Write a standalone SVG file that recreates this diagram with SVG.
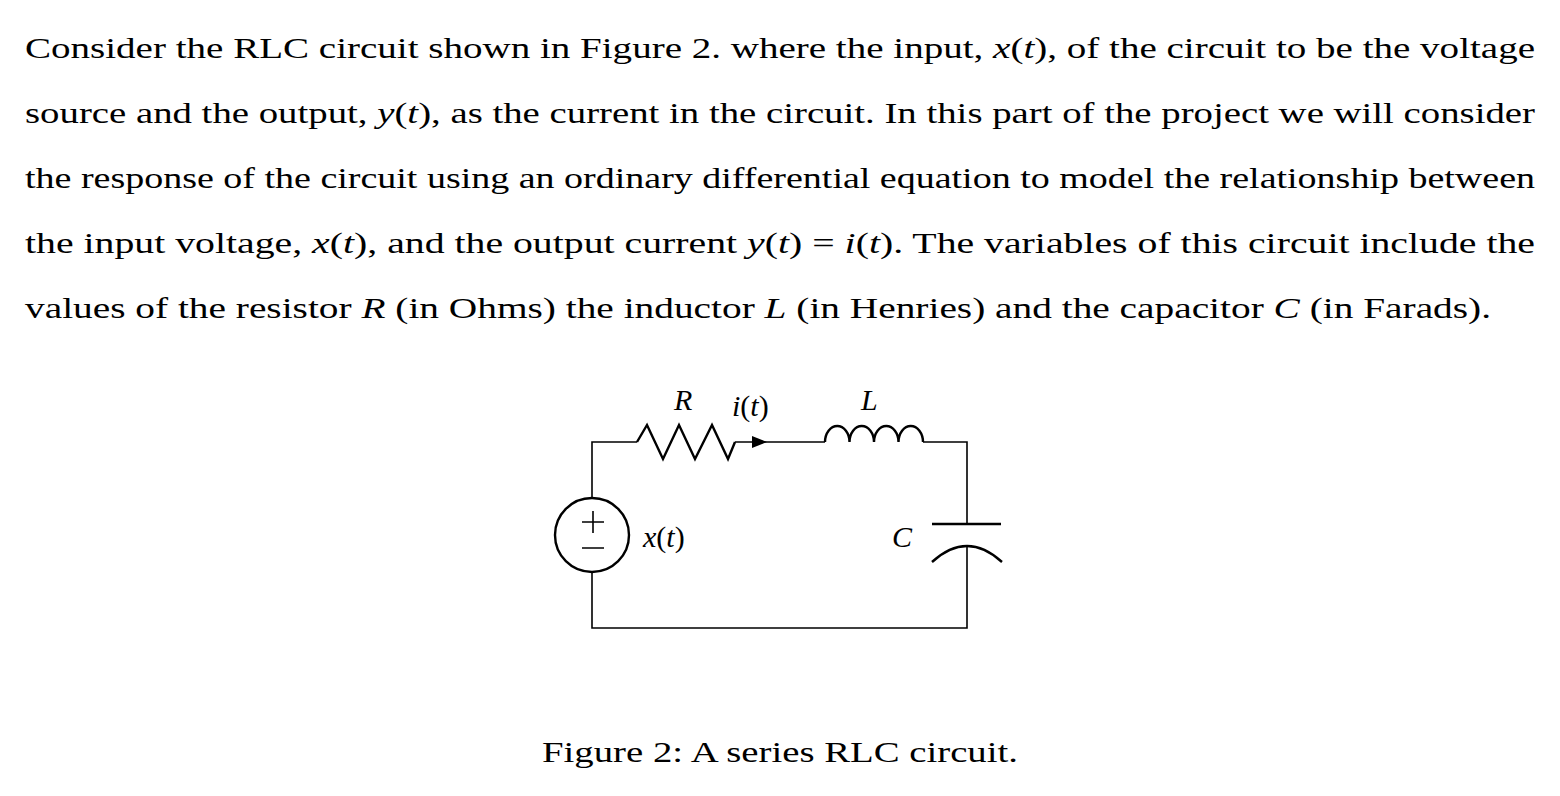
<svg xmlns="http://www.w3.org/2000/svg" width="1560" height="796" viewBox="0 0 1560 796">
<style>
.t{font-family:"Liberation Serif",serif;font-size:30px;fill:#000}
.m{font-family:"Liberation Serif",serif;font-size:30px;font-style:italic;fill:#000}
.w{fill:none;stroke:#000;stroke-width:1.6}
.k{fill:none;stroke:#000;stroke-width:2.4}
</style>
<rect width="1560" height="796" fill="#fff"/>
<g id="paragraph">
<text class="t" x="25" y="58" textLength="1510" lengthAdjust="spacingAndGlyphs">Consider the RLC circuit shown in Figure 2. where the input, <tspan font-style="italic">x</tspan>(<tspan font-style="italic">t</tspan>), of the circuit to be the voltage</text>
<text class="t" x="25" y="123" textLength="1510" lengthAdjust="spacingAndGlyphs">source and the output, <tspan font-style="italic">y</tspan>(<tspan font-style="italic">t</tspan>), as the current in the circuit. In this part of the project we will consider</text>
<text class="t" x="25" y="188" textLength="1510" lengthAdjust="spacingAndGlyphs">the response of the circuit using an ordinary differential equation to model the relationship between</text>
<text class="t" x="25" y="253" textLength="1510" lengthAdjust="spacingAndGlyphs">the input voltage, <tspan font-style="italic">x</tspan>(<tspan font-style="italic">t</tspan>), and the output current <tspan font-style="italic">y</tspan>(<tspan font-style="italic">t</tspan>) = <tspan font-style="italic">i</tspan>(<tspan font-style="italic">t</tspan>). The variables of this circuit include the</text>
<text class="t" x="25" y="318" textLength="1466" lengthAdjust="spacingAndGlyphs">values of the resistor <tspan font-style="italic">R</tspan> (in Ohms) the inductor <tspan font-style="italic">L</tspan> (in Henries) and the capacitor <tspan font-style="italic">C</tspan> (in Farads).</text>
</g>
<g id="connectors">
<polyline class="w" points="592,498 592,442 637,442"/>
<polyline class="w" points="735,442 825,442"/>
<polyline class="w" points="923,442 967,442 967,524"/>
<polyline class="w" points="967,547 967,628 592,628 592,573"/>
<polygon points="752,436 767,442 752,448" fill="#000"/>
</g>
<g id="source">
<circle class="k" cx="592" cy="535" r="37"/>
<path class="w" d="M582,522h22M593,511v22M582,548h22"/>
<text class="m" x="643" y="547">x<tspan font-style="normal">(</tspan>t<tspan font-style="normal">)</tspan></text>
</g>
<g id="resistor">
<polyline class="k" points="637,442 647,425 663,459 679,425 695,459 712,425 728,459 735,442"/>
<text class="m" x="674" y="410">R</text>
<text class="m" x="732" y="416">i<tspan font-style="normal">(</tspan>t<tspan font-style="normal">)</tspan></text>
</g>
<g id="inductor">
<path class="k" d="M825,442a12.25,16 0 0 1 24.5,0a12.25,16 0 0 1 24.5,0a12.25,16 0 0 1 24.5,0a12.25,16 0 0 1 24.5,0"/>
<text class="m" x="861" y="410">L</text>
</g>
<g id="capacitor">
<line class="k" x1="932" y1="524" x2="1001" y2="524"/>
<path class="k" d="M932,562Q967,530 1002,562"/>
<text class="m" x="892" y="547">C</text>
</g>
<g id="caption">
<text class="t" x="542" y="762" textLength="476" lengthAdjust="spacingAndGlyphs">Figure 2:  A series RLC circuit.</text>
</g>
</svg>
